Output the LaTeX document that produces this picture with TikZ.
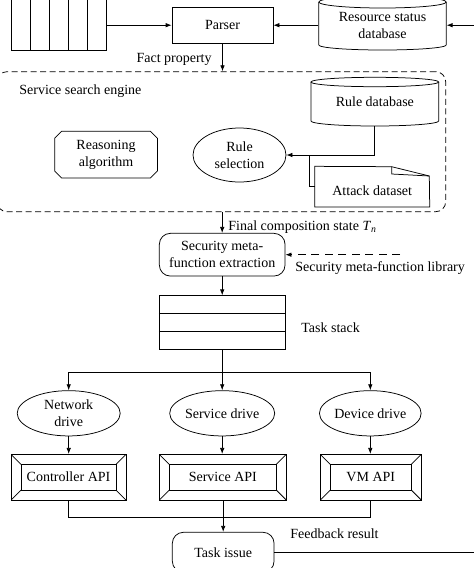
\documentclass[tikz,border=0pt]{standalone}
\usepackage{fontspec}
\setmainfont{Liberation Serif}
\usetikzlibrary{arrows.meta,calc,shapes.geometric}
\begin{document}
\begin{tikzpicture}[x=1pt,y=-1pt, line width=0.75pt,
  every node/.style={font=\fontsize{14}{17}\selectfont, inner sep=0pt, align=center},
  arr/.style={-{Latex[length=6pt,width=4.5pt]}},
  rbox/.style={draw, rounded corners=11pt},
  oval/.style={draw, ellipse},
  lbl/.style={anchor=west},
  apibox/.style={draw, path picture={
    \draw ([shift={(10pt,-10pt)}]path picture bounding box.north west) rectangle ([shift={(-10pt,10pt)}]path picture bounding box.south east);
    \draw (path picture bounding box.north west) -- ++(10pt,-10pt);
    \draw (path picture bounding box.north east) -- ++(-10pt,-10pt);
    \draw (path picture bounding box.south west) -- ++(10pt,10pt);
    \draw (path picture bounding box.south east) -- ++(-10pt,10pt);
  }},
  dash1/.style={dash pattern=on 6pt off 3.5pt},
  dash2/.style={dash pattern=on 8pt off 5.5pt}
]
\useasboundingbox (0,0) rectangle (474,568);
\clip (0,0) rectangle (474,568);

% top-left stacked source box
\node[draw, minimum width=94.3pt, minimum height=60.7pt] (src) at (58.85,20.35) {};
\foreach \xx in {30.7,49.3,68.3,87.3} \draw (\xx,-10) -- (\xx,50.7);

% parser
\node[draw, minimum width=101pt, minimum height=35.7pt] (parser) at (222.5,25.2) {Parser};

% resource status database (cylinder)
\node[minimum width=127.4pt, minimum height=44pt] (rsd) at (382.5,25.2) {Resource status\\database};
\draw (382.5,2) ellipse [x radius=63.7pt, y radius=6pt];
\draw (318.8,2) -- (318.8,45) arc[start angle=180, end angle=360, x radius=63.7pt, y radius=5pt] -- (446.2,2);
\coordinate (rin) at (476,25.2);

\draw[arr] (src.east |- parser.west) -- (parser.west);
\draw[arr] (rsd.west) -- (parser.east);
\draw[arr] (rin) -- (rsd.east);

% service search engine (dashed container)
\node[draw, dash1, rounded corners=10pt, minimum width=448.7pt, minimum height=140pt] (engine) at (221.35,141.7) {};
\node[lbl] (englbl) at (19,91) {Service search engine};
\draw[arr] (parser.south) -- (parser.south |- engine.north);
\node[anchor=east] (factlbl) at (212,59) {Fact property};

% rule database
\node[minimum width=127.7pt, minimum height=39pt] (ruledb) at (374.85,101.5) {Rule database};
\draw (374.85,82) ellipse [x radius=63.85pt, y radius=4.7pt];
\draw (311,82) -- (311,121) arc[start angle=180, end angle=360, x radius=63.85pt, y radius=5pt] -- (438.7,82);

% reasoning algorithm (octagon)
\node[minimum width=102pt, minimum height=46pt] (reason) at (106,154.7) {Reasoning\\algorithm};
\draw ([xshift=7pt]reason.north west) -- ([xshift=-7pt]reason.north east) -- ([yshift=-7pt]reason.north east)
  -- ([yshift=7pt]reason.south east) -- ([xshift=-7pt]reason.south east) -- ([xshift=7pt]reason.south west)
  -- ([yshift=7pt]reason.south west) -- ([yshift=-7pt]reason.north west) -- cycle;

% rule selection
\node[oval, minimum width=93pt, minimum height=54pt] (rulesel) at (239.5,155) {Rule\\selection};

% attack dataset
\node[minimum width=114.3pt, minimum height=40pt] (attack) at (372.2,186.7) {\raisebox{-4pt}[\height][\depth]{Attack dataset}};
\draw (attack.north west) -- (391.7,166.7) -- (429.3,176) -- (attack.south east) -- (attack.south west) -- cycle;
\draw (391.7,166.7) -- (391.7,174) -- (429.3,176);

\coordinate (jn) at (309.3,155);
\draw[arr] ([yshift=-5pt]ruledb.south) |- (rulesel.east);
\draw (attack.west) -- (attack.west -| jn) -- (jn);

% security meta-function extraction
\node[rbox, minimum width=125.7pt, minimum height=42.7pt] (smfe) at (222.2,254.7) {\fontsize{14}{15}\selectfont Security meta-\\function extraction};
\draw[arr] (smfe.north |- engine.south) -- (smfe.north);
\node[lbl] (finlbl) at (228,227) {Final composition state \textit{T}\textsubscript{\textit{n}}};
\coordinate (libin) at (400,254.7);
\draw[arr, dash2] (libin) -- (smfe.east);
\node[lbl] (liblbl) at (295,268) {Security meta-function library};

% task stack
\node[draw, minimum width=125.7pt, minimum height=53.3pt] (stack) at (222.2,322.4) {};
\draw ($(stack.north west)!1/3!(stack.south west)$) -- ($(stack.north east)!1/3!(stack.south east)$);
\draw ($(stack.north west)!2/3!(stack.south west)$) -- ($(stack.north east)!2/3!(stack.south east)$);
\draw[arr] (smfe.south) -- (stack.north);
\node[lbl] (stacklbl) at (301,327.7) {Task stack};

% drives
\node[oval, minimum width=103pt, minimum height=45.3pt] (netd) at (68.7,413.3) {Network\\drive};
\node[oval, minimum width=101pt, minimum height=45.3pt] (servd) at (222.2,413.3) {Service drive};
\node[oval, minimum width=101.3pt, minimum height=45.3pt] (devd) at (370.3,413.3) {Device drive};
\coordinate (br) at (222.2,372.2);
\draw (stack.south) -- (br);
\draw[arr] (br) -| (netd.north);
\draw[arr] (br) -| (devd.north);
\draw[arr] (br) -- (servd.north);

% APIs
\node[apibox, minimum width=115pt, minimum height=45.7pt] (ctrl) at (68.5,477.2) {Controller API};
\node[apibox, minimum width=127pt, minimum height=45.7pt] (svc) at (222.8,477.2) {Service API};
\node[apibox, minimum width=101pt, minimum height=45.7pt] (vm) at (370.8,477.2) {VM API};
\draw[arr] (netd.south) -- (netd.south |- ctrl.north);
\draw[arr] (servd.south) -- (servd.south |- svc.north);
\draw[arr] (devd.south) -- (devd.south |- vm.north);

% task issue
\node[rbox, minimum width=101.7pt, minimum height=40pt] (task) at (223.2,552.3) {Task issue};
\coordinate (mg) at (223.2,517.7);
\draw (ctrl.south) |- (mg);
\draw (vm.south) |- (mg);
\draw[arr] (svc.south -| task.north) -- (task.north);
\coordinate (fbout) at (476,552.3);
\draw (task.east) -- (fbout);
\node[lbl] (fblbl) at (290,533.3) {Feedback result};
\end{tikzpicture}
\end{document}
